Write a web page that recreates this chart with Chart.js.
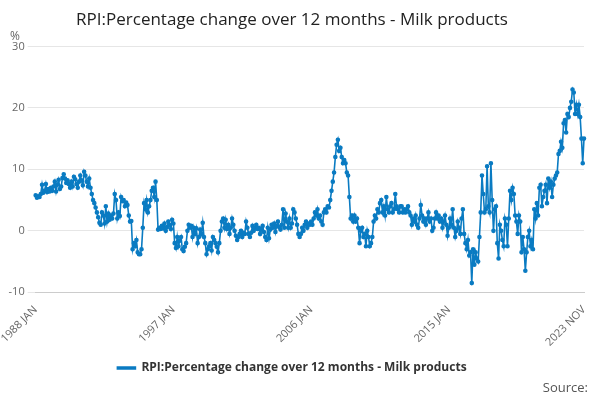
<!DOCTYPE html>
<html>
<head>
<meta charset="utf-8">
<script src="https://cdn.jsdelivr.net/npm/chart.js@4"></script>
<style>
  body { margin: 0; background: #fff; font-family: "Open Sans", sans-serif; }
  #wrap { position: relative; width: 600px; height: 400px; }
  #src { position: absolute; right: 12px; bottom: 4px; font-size: 13px; color: #555; }
</style>
</head>
<body>
<div id="wrap">
  <canvas id="chart" width="600" height="400"></canvas>
  <div id="src">Source:</div>
</div>
<script>
// monthly values per year
const y1988 = [5.8, 5.4, 5.6, 5.5, 6.0, 7.5, 6.2, 6.5, 7.6, 6.3, 6.8, 6.4];
const y1989 = [7.0, 6.5, 7.2, 8.0, 6.4, 7.5, 8.3, 6.8, 7.2, 8.6, 9.2, 8.5];
const y1990 = [7.8, 8.2, 7.6, 7.0, 8.0, 7.2, 8.8, 8.4, 7.6, 7.0, 8.0, 9.0];
const y1991 = [8.2, 7.4, 9.6, 9.0, 8.0, 7.2, 8.5, 7.0, 6.0, 5.0, 4.5, 3.8];
const y1992 = [3.0, 2.2, 1.3, 1.0, 3.0, 2.5, 1.2, 4.0, 1.5, 2.8, 1.8, 2.5];
const y1993 = [2.0, 2.8, 6.0, 5.0, 2.0, 3.0, 2.4, 5.5, 4.8, 5.0, 4.0, 4.6];
const y1994 = [4.2, 2.5, 1.5, 1.6, -3.0, -2.0, -2.5, -1.5, -3.5, -3.8, -3.8, -3.0];
const y1995 = [0.5, 4.5, 3.5, 5.0, 3.0, 4.0, 5.0, 6.5, 7.0, 5.5, 8.0, 5.0];
const y1996 = [0.2, 0.5, 0.3, 0.8, 0.4, 1.2, 0.0, 0.6, 1.5, 1.0, 0.3, 1.8];
const y1997 = [1.2, -2.0, -2.8, -1.0, -2.5, -1.6, -1.0, -3.0, -3.3, -2.6, -2.0, 0.0];
const y1998 = [1.0, 0.5, 0.8, -1.0, 0.5, -0.5, 0.4, -2.0, -1.0, 0.2, -0.5, 1.3];
const y1999 = [-1.0, -2.0, -3.8, -3.0, -2.5, -2.0, -3.2, -1.0, -1.5, -2.0, -2.6, -3.5];
const y2000 = [-2.0, 0.0, 1.5, 2.0, 0.5, 1.8, 0.3, 1.0, -0.5, 0.5, 2.0, 1.0];
const y2001 = [0.0, -0.8, -1.5, -1.0, -0.5, 0.0, -1.0, -0.3, -0.5, 1.5, 0.5, -0.5];
const y2002 = [-1.0, -0.3, 0.8, 0.0, 0.5, 1.0, 0.3, 0.5, -0.5, 0.2, 0.8, -0.2];
const y2003 = [-1.0, -1.5, 0.5, -1.2, 0.2, 1.0, 0.5, 1.2, -0.2, 0.8, 1.5, 0.6];
const y2004 = [0.2, 1.0, 3.5, 0.5, 2.8, 1.5, 0.5, 2.0, 0.5, 1.2, 3.5, 3.0];
const y2005 = [2.0, 1.0, -0.5, -1.0, -0.5, 0.5, 0.0, 1.0, 1.5, 0.5, 1.2, 1.0];
const y2006 = [1.5, 1.0, 2.0, 3.0, 2.5, 3.5, 2.0, 2.5, 1.5, 1.0, 3.0, 3.5];
const y2007 = [3.0, 4.0, 3.8, 5.0, 6.5, 8.0, 9.5, 12.0, 14.0, 14.8, 13.0, 13.5];
const y2008 = [12.0, 11.0, 11.5, 11.0, 9.5, 9.0, 5.5, 2.0, 2.5, 1.5, 2.5, 1.5];
const y2009 = [2.0, 0.5, -2.0, 0.0, 0.5, -1.0, -0.5, -2.5, 0.0, -1.0, -2.5, -2.0];
const y2010 = [-1.0, 1.5, 2.5, 2.0, 3.5, 3.0, 4.5, 5.0, 3.0, 4.0, 2.5, 5.5];
const y2011 = [3.5, 3.0, 4.0, 4.5, 3.0, 3.5, 6.0, 4.0, 3.5, 3.0, 4.0, 4.0];
const y2012 = [3.0, 3.5, 3.0, 3.5, 4.0, 3.0, 2.5, 1.0, 2.0, 1.5, 2.5, 1.0];
const y2013 = [0.5, 2.0, 4.2, 2.5, 1.5, 2.0, 1.0, 2.0, 3.0, 1.5, 2.0, 0.0];
const y2014 = [0.5, 2.0, 3.0, 2.0, 2.5, 1.5, 2.0, 0.5, 1.5, 2.5, 1.0, -0.8];
const y2015 = [0.5, 2.0, 1.0, 3.5, 0.5, -1.0, 0.0, 1.5, 0.5, -0.5, 2.0, 3.5];
const y2016 = [-0.5, -2.0, -3.0, -1.5, -4.0, -3.5, -8.5, -3.0, -5.5, -3.5, -4.5, -5.0];
const y2017 = [-1.0, 3.0, 9.0, 6.0, 3.0, 3.5, 10.5, 4.0, 3.0, 11.0, 5.0, 0.0];
const y2018 = [3.5, 4.0, -2.0, -4.5, 1.0, 0.0, -1.5, -2.5, 2.0, 1.0, -2.5, 2.0];
const y2019 = [6.5, 5.0, 7.0, 6.0, 2.5, 1.5, -0.5, 2.5, 1.5, -3.5, -1.0, -3.0];
const y2020 = [-6.5, -3.5, -1.0, 0.0, -2.5, -1.5, -3.0, 3.5, 2.0, 4.5, 2.5, 7.0];
const y2021 = [7.5, 4.0, 5.5, 6.5, 7.5, 4.5, 8.5, 7.0, 8.0, 5.5, 7.5, 8.5];
const y2022 = [9.0, 9.5, 12.5, 13.0, 14.5, 13.5, 17.5, 18.0, 16.0, 19.0, 18.5, 20.0];
const y2023 = [21.0, 23.0, 22.5, 19.0, 20.5, 19.0, 20.5, 18.5, 15.0, 11.0, 15.0];

const startYear = 1988;
const monthNames = ['JAN', 'FEB', 'MAR', 'APR', 'MAY', 'JUN', 'JUL', 'AUG', 'SEP', 'OCT', 'NOV', 'DEC'];
const years = [y1988, y1989, y1990, y1991, y1992, y1993, y1994, y1995, y1996, y1997, y1998, y1999,
  y2000, y2001, y2002, y2003, y2004, y2005, y2006, y2007, y2008, y2009, y2010, y2011,
  y2012, y2013, y2014, y2015, y2016, y2017, y2018, y2019, y2020, y2021, y2022, y2023];

const labels = [];
const values = [];
years.forEach((yr, i) => {
  yr.forEach((v, m) => {
    labels.push((startYear + i) + ' ' + monthNames[m]);
    values.push(v);
  });
});
const last = labels.length - 1;

const blue = '#0a7bc2';

new Chart(document.getElementById('chart'), {
  type: 'line',
  data: {
    labels: labels,
    datasets: [{
      label: 'RPI:Percentage change over 12 months - Milk products',
      data: values,
      borderColor: blue,
      backgroundColor: blue,
      borderWidth: 1.6,
      pointRadius: 1.5,
      pointHoverRadius: 3,
      tension: 0
    }]
  },
  options: {
    responsive: false,
    animation: false,
    layout: { padding: { left: 0, right: 16, top: 2, bottom: 16 } },
    plugins: {
      title: {
        display: true,
        text: 'RPI:Percentage change over 12 months - Milk products',
        color: '#222',
        font: { family: 'Open Sans', size: 17, weight: 'normal' },
        padding: { top: 8, bottom: 16 }
      },
      legend: {
        position: 'bottom',
        labels: {
          usePointStyle: false,
          boxWidth: 18,
          boxHeight: 2,
          color: '#333',
          font: { family: 'Open Sans', size: 12, weight: 'bold' }
        }
      },
      tooltip: { enabled: false }
    },
    scales: {
      x: {
        grid: { display: false },
        border: { color: '#ccc' },
        ticks: {
          autoSkip: false,
          maxRotation: 45,
          minRotation: 45,
          color: '#666',
          font: { family: 'Open Sans', size: 11 },
          callback: function (val, i) {
            return (i % 108 === 0 || i === last) ? labels[i] : null;
          }
        }
      },
      y: {
        min: -10,
        max: 30,
        grid: { color: '#e6e6e6' },
        border: { display: false },
        ticks: {
          stepSize: 10,
          color: '#666',
          font: { family: 'Open Sans', size: 11 }
        }
      }
    }
  },
  plugins: [{
    id: 'unit',
    afterDraw(chart) {
      const ctx = chart.ctx;
      ctx.save();
      ctx.fillStyle = '#666';
      ctx.font = '12px "Open Sans"';
      ctx.fillText('%', 10, chart.scales.y.top - 10);
      ctx.restore();
    }
  }]
});
</script>
</body>
</html>
